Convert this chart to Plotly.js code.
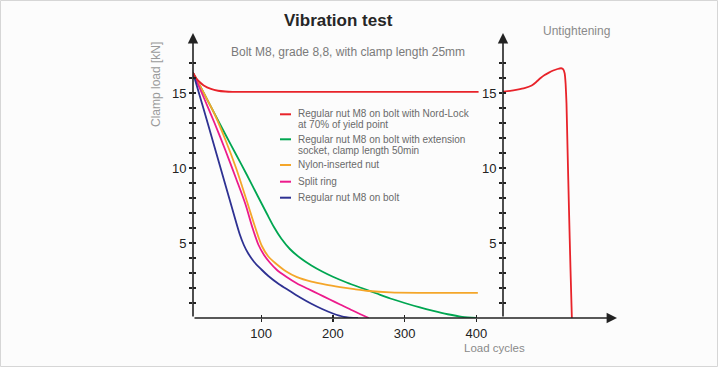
<!DOCTYPE html>
<html>
<head>
<meta charset="utf-8">
<script src="https://cdn.plot.ly/plotly-3.0.1.min.js"></script>
<style>html,body{margin:0;padding:0;background:#fcfcfc;}#chart{width:718px;height:367px;}</style>
</head>
<body>
<div id="chart"></div>
<script>
// ---- data ----
const redX    = [5, 10, 15, 20, 30, 40, 50, 60, 80, 100, 150, 200, 250, 300, 350, 403];
const redY    = [16.35, 15.95, 15.7, 15.5, 15.27, 15.15, 15.1, 15.08, 15.08, 15.08, 15.08, 15.08, 15.08, 15.08, 15.08, 15.08];
const greenX  = [5, 20, 35, 50, 65, 80, 95, 108, 118, 128, 140, 155, 170, 185, 200, 220, 240, 260, 280, 300, 320, 340, 360, 380, 400];
const greenY  = [16.35, 15.0, 13.62, 12.25, 10.9, 9.55, 8.15, 6.95, 6.05, 5.3, 4.6, 3.98, 3.5, 3.1, 2.75, 2.35, 2.0, 1.65, 1.3, 1.0, 0.72, 0.47, 0.25, 0.08, 0];
const orangeX = [5, 20, 35, 50, 65, 80, 92, 101, 110, 120, 135, 150, 170, 190, 210, 230, 250, 280, 320, 360, 402];
const orangeY = [16.35, 15.0, 13.6, 11.9, 10.0, 7.8, 6.0, 4.8, 4.1, 3.65, 3.1, 2.72, 2.42, 2.22, 2.06, 1.92, 1.8, 1.71, 1.68, 1.68, 1.68];
const pinkX   = [5, 20, 35, 50, 65, 78, 88, 96, 104, 112, 122, 135, 150, 165, 180, 195, 210, 225, 240, 250];
const pinkY   = [16.35, 14.7, 13.0, 11.2, 9.3, 7.6, 6.0, 4.9, 4.2, 3.7, 3.2, 2.75, 2.3, 1.95, 1.6, 1.25, 0.9, 0.55, 0.22, 0];
const blueX   = [5, 20, 35, 50, 62, 70, 76, 82, 90, 100, 110, 125, 140, 155, 170, 185, 200, 215, 235];
const blueY   = [16.35, 13.9, 11.4, 8.9, 6.9, 5.6, 4.85, 4.3, 3.75, 3.25, 2.8, 2.25, 1.8, 1.35, 0.95, 0.6, 0.3, 0.08, 0];
// untightening panel (arbitrary cycle units, same scale as the left panel)
const untX    = [0, 10, 20, 30, 40, 46, 52, 58, 64, 70, 76, 81, 84, 86, 87.3, 88.5, 90, 92, 94, 96];
const untY    = [15.09, 15.14, 15.22, 15.32, 15.5, 15.72, 15.98, 16.2, 16.36, 16.5, 16.6, 16.65, 16.58, 16.3, 15.6, 14.3, 11.2, 7.2, 3.4, 0];
const xTicks  = [100, 200, 300, 400];
const yTicks  = [1,2,3,4,5,6,7,8,9,10,11,12,13,14,15,16,17];
const yTickText = yTicks.map(v => (v % 5 === 0 ? String(v) : ''));
const seriesNames = [
  ['Regular nut M8 on bolt with Nord-Lock', 'at 70% of yield point'],
  ['Regular nut M8 on bolt with extension', 'socket, clamp length 50min'],
  ['Nylon-inserted nut'],
  ['Split ring'],
  ['Regular nut M8 on bolt']
];
const colors = ['#e8232a', '#00a651', '#f4a62a', '#ec1b8c', '#2e3192'];

// ---- geometry helpers (pixels -> paper) ----
const W = 718, H = 367;
const px = v => v / W;
const py = v => 1 - v / H;

const lw = 1.8;
const traces = [
  {x: redX, y: redY, color: colors[0]},
  {x: greenX, y: greenY, color: colors[1]},
  {x: orangeX, y: orangeY, color: colors[2]},
  {x: pinkX, y: pinkY, color: colors[3]},
  {x: blueX, y: blueY, color: colors[4]}
].map(s => ({x: s.x, y: s.y, type: 'scatter', mode: 'lines', xaxis: 'x', yaxis: 'y',
   line: {color: s.color, width: lw, shape: 'spline', smoothing: 0.8}, hoverinfo: 'skip'}));
const ordered = [traces[1], traces[2], traces[3], traces[4], traces[0]];
ordered.push({x: untX, y: untY, type: 'scatter', mode: 'lines', xaxis: 'x2', yaxis: 'y2',
  line: {color: colors[0], width: lw, shape: 'spline', smoothing: 0.4}, hoverinfo: 'skip'});
ordered.push({x: [], y: [], xaxis: 'x', yaxis: 'y3', type: 'scatter', showlegend: false});
ordered.push({x: [], y: [], xaxis: 'x3', yaxis: 'y', type: 'scatter', showlegend: false});
ordered.push({x: [], y: [], xaxis: 'x2', yaxis: 'y4', type: 'scatter', showlegend: false});

const tickFont = {family: 'Liberation Sans, Arial, sans-serif', size: 13, color: '#222'};
const yDom = [py(318), py(33)];
const xDom = [px(193), px(480)];
const x2Dom = [px(503), px(617)];
const baseAx = {showgrid: false, zeroline: false, showline: false, fixedrange: true};

const legendAnn = [];
const legendShapes = [];
const rowY = [[113.3, 124.3], [139.3, 150.7], [164.3], [181.7], [197.3]];
const keyY = [114.3, 139.3, 165, 181.7, 197.7];
seriesNames.forEach((lines, i) => {
  lines.forEach((t, j) => legendAnn.push({
    x: px(296), y: py(rowY[i][j]), xref: 'paper', yref: 'paper', xanchor: 'left', yanchor: 'middle',
    text: t, showarrow: false,
    font: {family: 'Liberation Sans, Arial, sans-serif', size: 10, color: '#6a6a6a'}
  }));
  legendShapes.push({type: 'line', xref: 'paper', yref: 'paper', x0: px(280), x1: px(291), y0: py(keyY[i]), y1: py(keyY[i]),
    line: {color: colors[i], width: 2}});
});

const arrow = (xt, yt, ax, ay) => ({x: px(xt), y: py(yt), xref: 'paper', yref: 'paper', ax: ax, ay: ay,
  text: '', showarrow: true, arrowhead: 2, arrowsize: 1.3, arrowwidth: 1.6, arrowcolor: '#222', standoff: 0, startstandoff: 0});
const label = (x, y, t, size, color, extra) => Object.assign({x: px(x), y: py(y), xref: 'paper', yref: 'paper',
  xanchor: 'center', yanchor: 'middle', text: t, showarrow: false,
  font: {family: 'Liberation Sans, Arial, sans-serif', size: size, color: color}}, extra || {});

const layout = {
  width: W, height: H,
  margin: {l: 0, r: 0, t: 0, b: 0},
  paper_bgcolor: '#fcfcfc', plot_bgcolor: 'rgba(0,0,0,0)',
  showlegend: false,
  xaxis: Object.assign({}, baseAx, {domain: xDom, range: [5, 405], anchor: 'y', tickmode: 'array', tickvals: xTicks,
    ticks: 'outside', ticklen: 3, tickwidth: 1.2, tickcolor: '#222', tickfont: tickFont}),
  xaxis3: Object.assign({}, baseAx, {domain: xDom, range: [5, 405], anchor: 'y', overlaying: 'x', tickmode: 'array', tickvals: xTicks,
    ticks: 'inside', ticklen: 3, tickwidth: 1.2, tickcolor: '#222', showticklabels: false}),
  yaxis: Object.assign({}, baseAx, {domain: yDom, range: [0, 19], anchor: 'x', tickmode: 'array', tickvals: yTicks, ticktext: yTickText,
    ticks: 'outside', ticklen: 3, tickwidth: 1.2, tickcolor: '#222', tickfont: tickFont}),
  yaxis3: Object.assign({}, baseAx, {domain: yDom, range: [0, 19], anchor: 'x', overlaying: 'y', tickmode: 'array', tickvals: yTicks,
    ticks: 'inside', ticklen: 3, tickwidth: 1.2, tickcolor: '#222', showticklabels: false}),
  xaxis2: Object.assign({}, baseAx, {domain: x2Dom, range: [0, 158.9], anchor: 'y2', showticklabels: false, ticks: ''}),
  yaxis2: Object.assign({}, baseAx, {domain: yDom, range: [0, 19], anchor: 'x2', tickmode: 'array', tickvals: yTicks, ticktext: yTickText,
    ticks: 'outside', ticklen: 3, tickwidth: 1.2, tickcolor: '#222', tickfont: tickFont}),
  yaxis4: Object.assign({}, baseAx, {domain: yDom, range: [0, 19], anchor: 'x2', overlaying: 'y2', tickmode: 'array', tickvals: yTicks,
    ticks: 'inside', ticklen: 3, tickwidth: 1.2, tickcolor: '#222', showticklabels: false}),
  shapes: [
    {type: 'rect', xref: 'paper', yref: 'paper', x0: px(0.5), x1: px(717.5), y0: py(366.5), y1: py(0.5), line: {color: '#d6d6d6', width: 1}}
  ].concat(legendShapes),
  annotations: [
    label(338, 20, '<b>Vibration test</b>', 17, '#262626'),
    label(348, 51.5, 'Bolt M8, grade 8,8, with clamp length 25mm', 12, '#7a7a7a'),
    label(576, 31, 'Untightening', 12, '#8a8a8a'),
    label(156, 85, 'Clamp load [kN]', 12, '#9a9a9a', {textangle: -90}),
    label(494, 348, 'Load cycles', 11.5, '#8a8a8a'),
    arrow(193, 33, 0, 285),
    arrow(503, 33, 0, 285),
    arrow(617, 318, -424, 0)
  ].concat(legendAnn)
};

Plotly.newPlot('chart', ordered, layout, {staticPlot: true, displayModeBar: false});
</script>
</body>
</html>
